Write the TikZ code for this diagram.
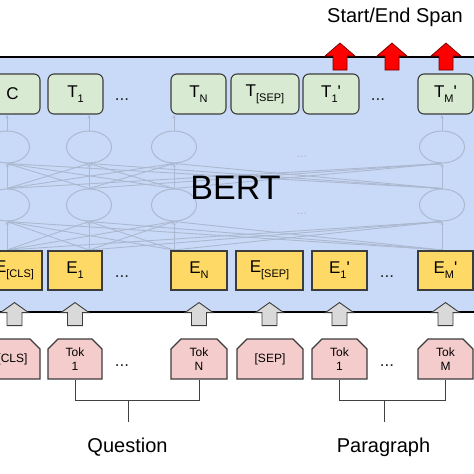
\documentclass[tikz,border=0pt]{standalone}
\usepackage{fontspec}
\setmainfont{Liberation Sans}
\usetikzlibrary{shapes.geometric,shapes.misc,arrows.meta,calc}
\definecolor{bertblue}{RGB}{201,218,248}
\definecolor{tgreen}{RGB}{217,234,211}
\definecolor{eyellow}{RGB}{255,217,102}
\definecolor{tokpink}{RGB}{244,204,204}
\definecolor{boxline}{RGB}{60,60,60}
\definecolor{netcol}{RGB}{172,184,208}
\definecolor{garrowfill}{RGB}{217,217,217}
\definecolor{rarrowfill}{RGB}{255,0,0}
\newcommand{\sublab}[3]{#1\raisebox{-0.3em}{\fontsize{11}{11}\selectfont #2}#3}
\begin{document}
\begin{tikzpicture}[x=1pt,y=-1pt,
  tbox/.style={draw=boxline, line width=1.1pt, fill=tgreen, rounded corners=6pt,
    minimum height=40pt, inner sep=0pt, font=\fontsize{17}{20}\selectfont},
  ebox/.style={draw=boxline, line width=1.1pt, fill=eyellow,
    minimum height=39pt, inner sep=0pt, font=\fontsize{17}{20}\selectfont},
  tokbox/.style={chamfered rectangle, chamfered rectangle corners={north west,north east},
    chamfered rectangle xsep=5pt, chamfered rectangle ysep=5pt,
    draw=boxline, line width=1.1pt, fill=tokpink,
    minimum height=40pt, inner sep=0pt, align=center,
    font=\fontsize{12}{14}\selectfont},
  dots/.style={anchor=base, inner sep=0pt, font=\fontsize{17}{20}\selectfont, text=black!85},
  neuron/.style={ellipse, draw=netcol, line width=1pt, minimum width=45pt, minimum height=32pt, inner sep=0pt},
  netline/.style={draw=netcol, line width=0.9pt, -{Stealth[length=3.5pt,width=3pt]}},
  garrow/.style={fill=garrowfill, draw=boxline, line width=0.9pt},
  rarrow/.style={fill=rarrowfill, draw=red!45!black, line width=0.7pt},
  bracket/.style={draw=black!75, line width=1pt},
  bigtext/.style={anchor=base, inner sep=0pt, font=\fontsize{20}{24}\selectfont}
]
\useasboundingbox (0,0) rectangle (474,474);
\fill[white] (0,0) rectangle (474,474);
% BERT block
\fill[bertblue] (-10,57) rectangle (484,312);

% faint network
\foreach \i/\x in {1/7,2/89,3/174,4/442}{
  \node[neuron] (u\i) at (\x,147) {};
  \node[neuron] (l\i) at (\x,205) {};
  \coordinate (in\i) at (\x,250);
  \coordinate (out\i) at (\x,115);
}
\foreach \i in {1,...,4}{
  \foreach \j in {1,...,4}{
    \draw[netline] (l\i.north) -- (u\j.south);
    \draw[netline] (in\i) -- (l\j.south);
  }
  \draw[netline] (u\i.north) -- (out\i);
}
\node[text=netcol, font=\fontsize{12}{14}\selectfont] (nd1) at (302,157) {...};
\node[text=netcol, font=\fontsize{12}{14}\selectfont] (nd2) at (302,214) {...};

\node[anchor=base, inner sep=0pt, font=\fontsize{34}{40}\selectfont] (bert) at (235.5,199) {BERT};

% top row
\node[tbox, minimum width=55pt] (c) at (12.5,94) {C};
\node[tbox, minimum width=55pt] (t1) at (75.5,94) {\sublab{T}{1}{}};
\node[tbox, minimum width=55pt] (tn) at (198.5,94) {\sublab{T}{N}{}};
\node[tbox, minimum width=68pt] (tsep) at (265,94) {\sublab{T}{[SEP]}{}};
\node[tbox, minimum width=56pt] (tp1) at (331,94) {\sublab{T}{1}{\textquotesingle}};
\node[tbox, minimum width=55pt] (tpm) at (445.5,94) {\sublab{T}{M}{\textquotesingle}};
\node[dots] (dt1) at (122,100) {...};
\node[dots] (dt2) at (378,100) {...};

% embedding row
\node[ebox, minimum width=55pt] (ecls) at (14.5,270.5) {\sublab{E}{[CLS]}{}};
\node[ebox, minimum width=54pt] (e1) at (75,270.5) {\sublab{E}{1}{}};
\node[ebox, minimum width=56pt] (en) at (199,270.5) {\sublab{E}{N}{}};
\node[ebox, minimum width=67pt] (esep) at (269.5,270.5) {\sublab{E}{[SEP]}{}};
\node[ebox, minimum width=55pt] (ep1) at (339.5,270.5) {\sublab{E}{1}{\textquotesingle}};
\node[ebox, minimum width=55pt] (epm) at (445.5,270.5) {\sublab{E}{M}{\textquotesingle}};
\node[dots] (de1) at (122,277) {...};
\node[dots] (de2) at (387,277) {...};

% black borders
\draw[line width=2.6pt] (-10,57) -- (484,57);
\draw[line width=2.6pt] (-10,312) -- (484,312);

% gray input arrows
\foreach \n in {ecls,e1,en,esep,ep1,epm}{
  \draw[garrow, shift={(\n.south)}] (-14,22) -- (0,12) -- (14,22) -- (7.5,22) -- (7.5,35) -- (-7.5,35) -- (-7.5,22) -- cycle;
}

% red output arrows
\foreach \x in {340,392,446}{
  \draw[rarrow] (\x-15,56) -- (\x,43) -- (\x+15,56) -- (\x+7,56) -- (\x+7,70) -- (\x-7,70) -- (\x-7,56) -- cycle;
}
\node[bigtext] (span) at (395,22) {Start/End Span};

% token row
\node[tokbox, minimum width=55pt] (kcls) at (12.5,359) {[CLS]};
\node[tokbox, minimum width=54pt] (k1) at (75,359) {Tok\\1};
\node[tokbox, minimum width=56pt] (kn) at (199,359) {Tok\\N};
\node[tokbox, minimum width=66pt] (ksep) at (270,359) {[SEP]};
\node[tokbox, minimum width=55pt] (kp1) at (339.5,359) {Tok\\1};
\node[tokbox, minimum width=55pt] (kpm) at (445.5,359) {Tok\\M};
\node[dots] (dk1) at (122,366) {...};
\node[dots] (dk2) at (387,366) {...};

% brackets
\node[bigtext] (q) at (127.5,452) {Question};
\node[bigtext] (p) at (383.5,452) {Paragraph};
\coordinate (qj) at (128,400);
\coordinate (pj) at (384,400);
\draw[bracket] (k1.south) -- (k1.south |- qj) -- (kn.south |- qj) -- (kn.south);
\draw[bracket] (qj) -- (qj |- 0,422);
\draw[bracket] (kp1.south) -- (kp1.south |- pj) -- (kpm.south |- pj) -- (kpm.south);
\draw[bracket] (pj) -- (pj |- 0,422);
\end{tikzpicture}
\end{document}
